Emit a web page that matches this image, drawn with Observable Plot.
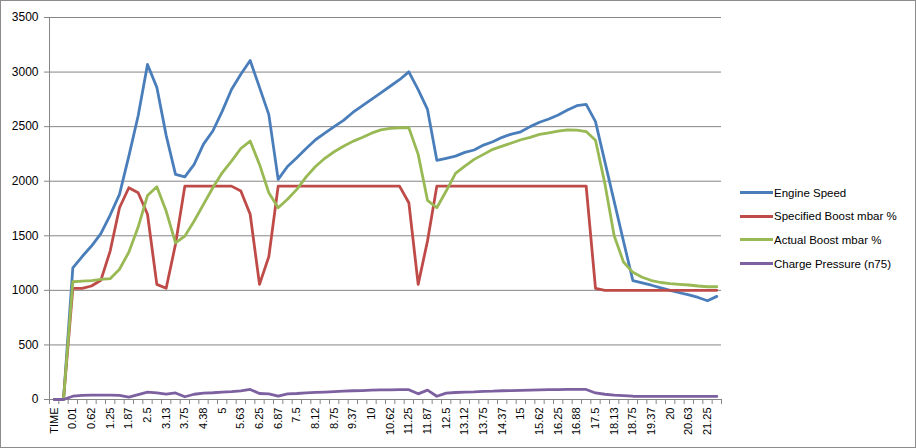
<!DOCTYPE html>
<html>
<head>
<meta charset="utf-8">
<script src="https://cdn.jsdelivr.net/npm/d3@7"></script>
<script src="https://cdn.jsdelivr.net/npm/@observablehq/plot@0.6"></script>
<style>
  html, body { margin: 0; padding: 0; background: #fff; }
  #frame { position: relative; width: 916px; height: 448px; box-sizing: border-box; border: 1px solid #8c8c8c; overflow: hidden; font-family: "Liberation Sans", Arial, sans-serif; }
  #chart { position: absolute; left: -1px; top: -1px; }
  #legend { position: absolute; left: 739px; top: 180px; font-size: 11.5px; color: #000; }
  .row { display: flex; align-items: center; height: 23.6px; }
  .sw { width: 33px; height: 3px; margin-right: 1px; }
</style>
</head>
<body>
<div id="frame"><div id="chart"></div><div id="legend"></div></div>
<script>
const categories = ["TIME","0","0.01","0.31","0.62","0.94","1.25","1.56","1.87","2.19","2.5","2.81","3.13","3.44","3.75","4.06","4.38","4.69","5","5.31","5.63","5.94","6.25","6.56","6.87","7.19","7.5","7.81","8.12","8.44","8.75","9.06","9.37","9.69","10","10.31","10.62","10.94","11.25","11.56","11.87","12.19","12.5","12.81","13.12","13.44","13.75","14.06","14.37","14.69","15","15.31","15.62","15.94","16.25","16.56","16.88","17.19","17.5","17.81","18.13","18.44","18.75","19.06","19.37","19.69","20","20.31","20.63","20.94","21.25","21.56"];

const engineSpeed = [0,0,1206,1310,1406,1519,1690,1880,2230,2600,
  3070,2860,2420,2062,2040,2154,2340,2460,2640,2840,
  2980,3106,2860,2610,2017,2135,2215,2300,2380,2440,
  2500,2557,2630,2690,2750,2810,2870,2930,3002,2840,
  2658,2191,2210,2230,2264,2286,2331,2362,2402,2432,
  2453,2500,2540,2570,2607,2652,2692,2704,2546,2180,
  1815,1450,1090,1068,1047,1023,1000,978,958,935,905,945];

const specifiedBoost = [0,0,1019,1019,1040,1092,1360,1757,1940,1894,
  1697,1055,1019,1422,1955,1955,1955,1955,1955,1955,
  1910,1697,1055,1309,1955,1955,1955,1955,1955,1955,
  1955,1955,1955,1955,1955,1955,1955,1955,1803,1055,
  1452,1955,1955,1955,1955,1955,1955,1955,1955,1955,
  1955,1955,1955,1955,1955,1955,1955,1955,1019,1000,
  1000,1000,1000,1000,1000,1000,1000,1000,1000,1000,1000,1000];

const actualBoost = [0,0,1079,1085,1090,1101,1107,1193,1350,1580,
  1870,1950,1726,1436,1497,1635,1788,1940,2077,2184,
  2300,2368,2154,1894,1757,1834,1925,2040,2135,2210,
  2270,2320,2365,2400,2440,2470,2485,2490,2490,2246,
  1825,1757,1910,2072,2139,2200,2246,2292,2322,2350,
  2380,2401,2429,2444,2459,2471,2468,2455,2375,1980,
  1500,1260,1165,1120,1090,1072,1062,1055,1049,1040,1033,1033];

const chargePressure = [0,0,30,38,40,40,40,38,22,45,
  68,60,50,60,25,48,58,62,68,72,
  80,92,55,52,30,52,55,60,65,68,
  72,76,80,82,85,88,88,90,90,52,
  86,30,58,64,68,70,74,76,80,82,
  84,86,88,90,91,92,92,92,60,48,
  40,35,30,28,28,28,28,28,28,28,28,28];

const seriesNames = ["Engine Speed","Specified Boost mbar %","Actual Boost mbar %","Charge Pressure (n75)"];
const seriesColors = ["#4a7ebb","#be4b48","#98b954","#7d60a0"];
const yTicks = [0,500,1000,1500,2000,2500,3000,3500];

const seriesValues = [engineSpeed, specifiedBoost, actualBoost, chargePressure];
const rows = [];
seriesValues.forEach((vals, s) => vals.forEach((v, i) => rows.push({series: seriesNames[s], i: i + 1, value: v})));

const n = categories.length;
const boundaries = d3.range(0, n + 1).map(k => k + 0.5);
const labelIdx = d3.range(1, n + 1, 2);
const grid = "#868686";

const chart = Plot.plot({
  width: 731, height: 449,
  marginLeft: 49, marginRight: 10, marginTop: 17, marginBottom: 50,
  style: {fontFamily: "Liberation Sans, Arial, sans-serif", color: "#000", background: "transparent"},
  x: {type: "linear", domain: [0.5, n + 0.5], label: null},
  y: {domain: [0, 3500], label: null},
  color: {domain: seriesNames, range: seriesColors},
  marks: [
    Plot.gridY(yTicks.slice(1), {stroke: grid, strokeOpacity: 1}),
    Plot.ruleX([0.5], {stroke: grid}),
    Plot.ruleY([0], {stroke: grid}),
    Plot.axisY(yTicks, {label: null, tickSize: 5, tickPadding: 6, fontSize: 12, stroke: grid, tickFormat: d => String(d)}),
    Plot.axisX(boundaries, {label: null, tickSize: 5, stroke: grid, tickFormat: () => ""}),
    Plot.axisX(labelIdx, {label: null, tickSize: 0, tickPadding: 8, tickRotate: -90, fontSize: 11, tickFormat: i => categories[i - 1]}),
    Plot.line(rows, {x: "i", y: "value", z: "series", stroke: "series", strokeWidth: 2.8, strokeLinejoin: "round"})
  ]
});
document.getElementById("chart").appendChild(chart);

const legend = document.getElementById("legend");
seriesNames.forEach((name, s) => {
  const row = document.createElement("div");
  row.className = "row";
  row.innerHTML = `<span class="sw" style="background:${seriesColors[s]}"></span><span>${name}</span>`;
  legend.appendChild(row);
});
</script>
</body>
</html>
